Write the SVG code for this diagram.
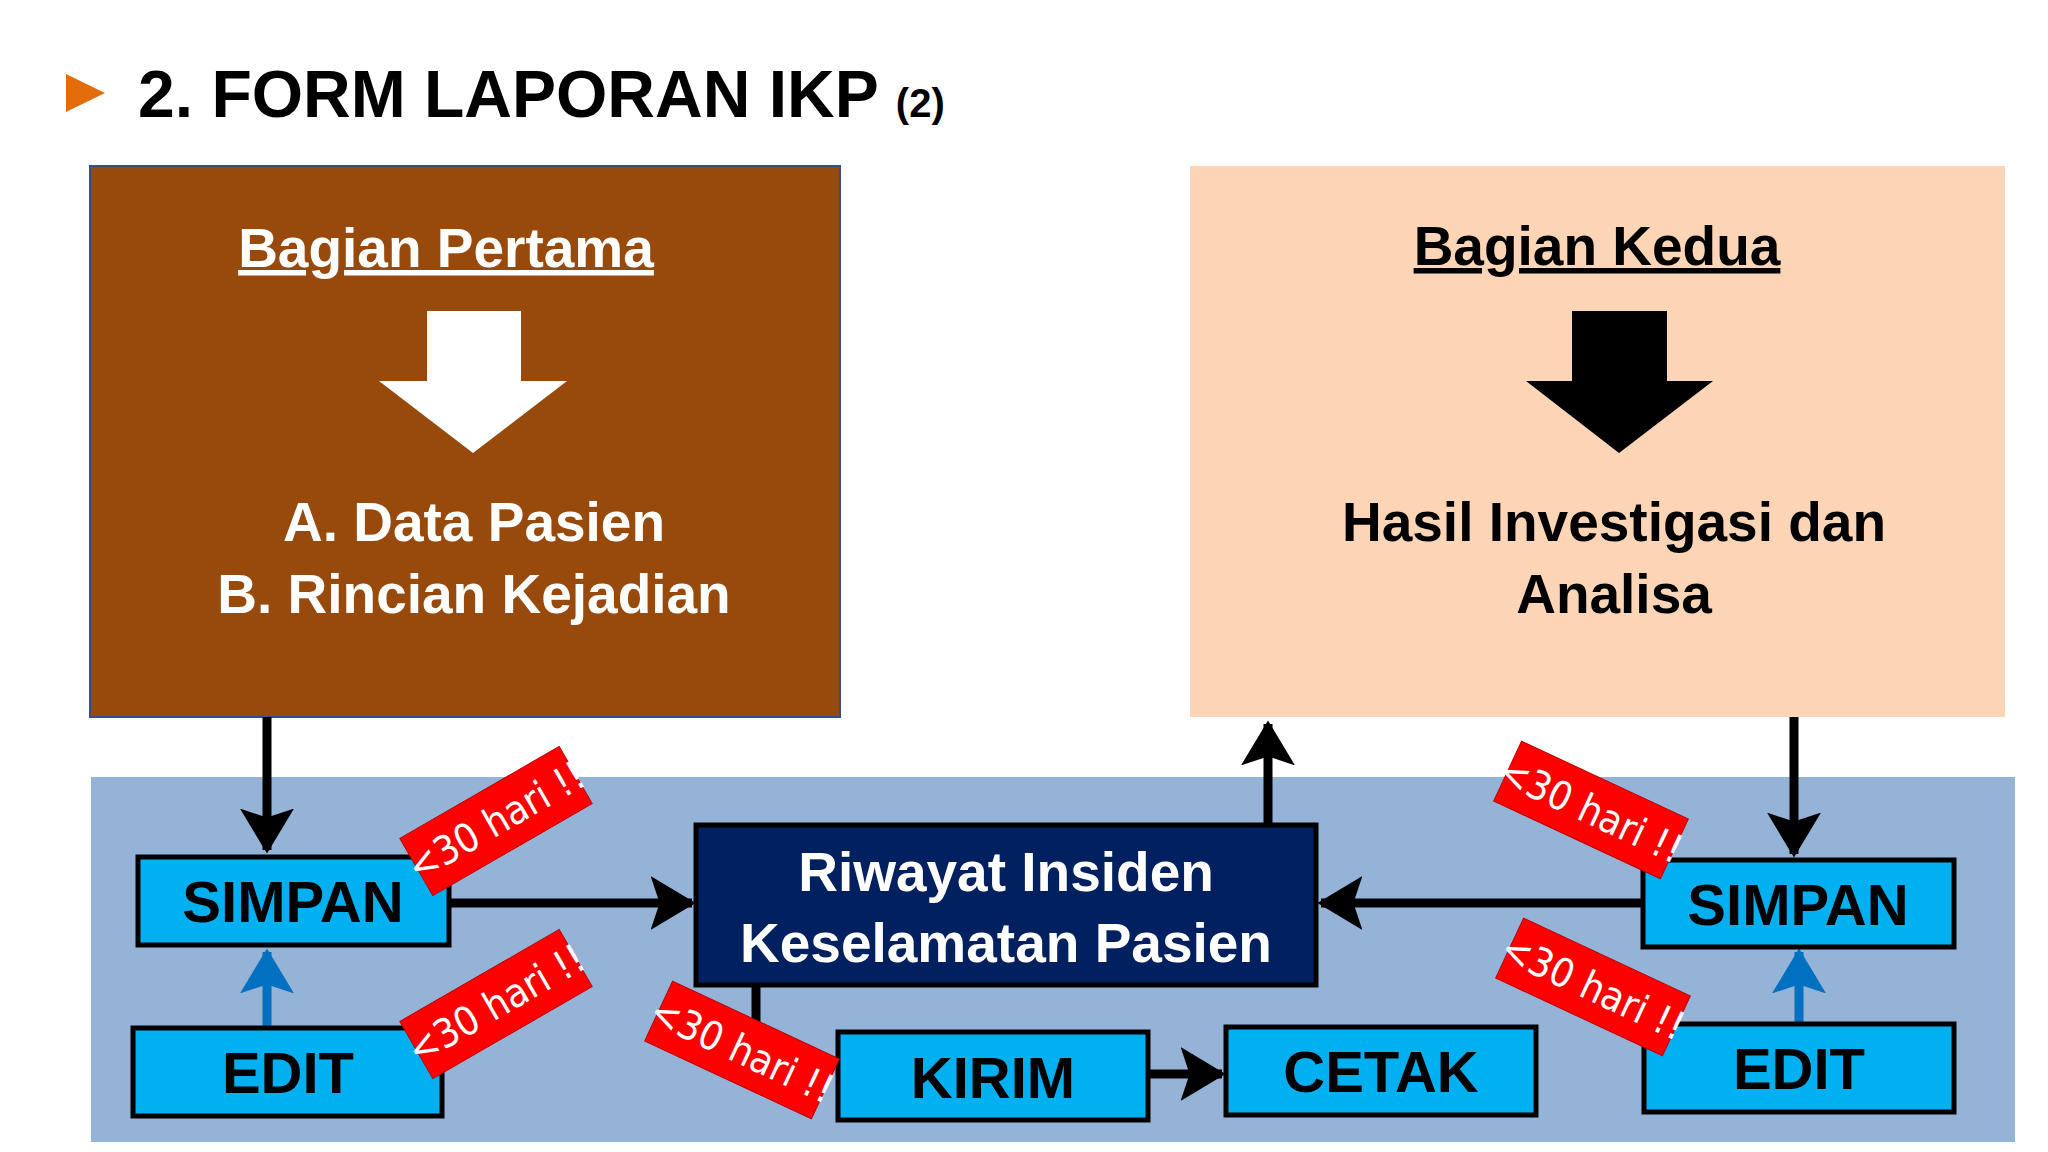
<svg xmlns="http://www.w3.org/2000/svg" width="2048" height="1152" viewBox="0 0 2048 1152">
<style>
.t{font-family:"Liberation Sans",Arial,sans-serif;font-weight:bold}
.node{fill:#00B0F0;stroke:#000;stroke-width:5}
.nt{font-family:"Liberation Sans",Arial,sans-serif;font-weight:bold;font-size:58px;fill:#000;text-anchor:middle}
.c{stroke:#000;stroke-width:9;fill:none}
.cb{stroke:#0070C0;stroke-width:9;fill:none}
.tag rect{fill:#FF0000;stroke:#C00000;stroke-width:1}
.tag text{font-family:"DejaVu Sans Condensed","DejaVu Sans",sans-serif;font-stretch:condensed;font-size:40px;fill:#fff;text-anchor:middle}
</style>
<defs>
<marker id="ah" markerWidth="6" markerHeight="6" refX="4.6" refY="3" orient="auto" markerUnits="strokeWidth">
<path d="M0,0 L5,3 L0,6 L1,3 Z" fill="#000"/>
</marker>
<marker id="ahb" markerWidth="6" markerHeight="6" refX="4.6" refY="3" orient="auto" markerUnits="strokeWidth">
<path d="M0,0 L5,3 L0,6 L1,3 Z" fill="#0070C0"/>
</marker>
</defs>
<rect width="2048" height="1152" fill="#fff"/>
<polygon points="66,74 105,93 66,112" fill="#E36C0A"/>
<text class="t" x="138" y="117" font-size="66" fill="#000">2. FORM LAPORAN IKP <tspan font-size="40">(2)</tspan></text>

<g id="bagian-pertama">
<rect x="90" y="166" width="750" height="551" fill="#974A0B" stroke="#2F528F" stroke-width="2"/>
<text class="t" x="446" y="267" font-size="55" fill="#fff" text-anchor="middle" text-decoration="underline">Bagian Pertama</text>
<polygon points="427,311 521,311 521,381 567,381 473,453 379,381 427,381" fill="#fff"/>
<text class="t" x="474" y="541" font-size="55" fill="#fff" text-anchor="middle">A.  Data Pasien</text>
<text class="t" x="474" y="613" font-size="55" fill="#fff" text-anchor="middle">B.  Rincian Kejadian</text>
</g>
<g id="bagian-kedua">
<rect x="1190" y="166" width="815" height="551" fill="#FBD5B5"/>
<text class="t" x="1597" y="265" font-size="55" fill="#000" text-anchor="middle" text-decoration="underline">Bagian Kedua</text>
<polygon points="1572,311 1667,311 1667,381 1713,381 1619,453 1526,381 1572,381" fill="#000"/>
<text class="t" x="1614" y="541" font-size="55" fill="#000" text-anchor="middle">Hasil Investigasi dan</text>
<text class="t" x="1614" y="613" font-size="55" fill="#000" text-anchor="middle">Analisa</text>
</g>
<rect x="91" y="777" width="1924" height="365" fill="#95B3D7"/>

<g id="connectors">
<line class="c" x1="267" y1="717" x2="267" y2="850" marker-end="url(#ah)"/>
<line class="cb" x1="267" y1="1028" x2="267" y2="952" marker-end="url(#ahb)"/>
<line class="c" x1="449" y1="903" x2="692" y2="903" marker-end="url(#ah)"/>
<line class="c" x1="1268" y1="825" x2="1268" y2="724" marker-end="url(#ah)"/>
<line class="c" x1="1643" y1="903" x2="1321" y2="903" marker-end="url(#ah)"/>
<line class="c" x1="1794" y1="717" x2="1794" y2="854" marker-end="url(#ah)"/>
<line class="cb" x1="1799" y1="1024" x2="1799" y2="952" marker-end="url(#ahb)"/>
<line class="c" x1="756" y1="985" x2="756" y2="1040"/>
<line class="c" x1="1148" y1="1074" x2="1222" y2="1074" marker-end="url(#ah)"/>
</g>

<g id="simpan-kiri"><rect class="node" x="138" y="857" width="311" height="88"/><text class="nt" x="293" y="922">SIMPAN</text></g>
<g id="edit-kiri"><rect class="node" x="133" y="1028" width="309" height="88"/><text class="nt" x="288" y="1093">EDIT</text></g>
<g id="riwayat"><rect x="696" y="825" width="620" height="160" fill="#002060" stroke="#000" stroke-width="5"/>
<text class="t" x="1006" y="891" font-size="55" fill="#fff" text-anchor="middle">Riwayat Insiden</text>
<text class="t" x="1006" y="962" font-size="55" fill="#fff" text-anchor="middle">Keselamatan Pasien</text></g>
<g id="kirim"><rect class="node" x="838" y="1032" width="310" height="88"/><text class="nt" x="993" y="1098">KIRIM</text></g>
<g id="cetak"><rect class="node" x="1226" y="1027" width="310" height="88"/><text class="nt" x="1381" y="1092">CETAK</text></g>
<g id="simpan-kanan"><rect class="node" x="1643" y="860" width="311" height="87"/><text class="nt" x="1798" y="925">SIMPAN</text></g>
<g id="edit-kanan"><rect class="node" x="1644" y="1024" width="310" height="88"/><text class="nt" x="1799" y="1089">EDIT</text></g>

<g id="tag1" class="tag" transform="translate(496,821) rotate(-30)"><rect x="-92" y="-33" width="184" height="66"/><text y="14">&lt;30 hari !!</text></g>
<g id="tag2" class="tag" transform="translate(496,1004) rotate(-30)"><rect x="-92" y="-33" width="184" height="66"/><text y="14">&lt;30 hari !!</text></g>
<g id="tag3" class="tag" transform="translate(742,1050) rotate(25)"><rect x="-92" y="-33" width="184" height="66"/><text y="14">&lt;30 hari !!</text></g>
<g id="tag4" class="tag" transform="translate(1591,810) rotate(25)"><rect x="-92" y="-33" width="184" height="66"/><text y="14">&lt;30 hari !!</text></g>
<g id="tag5" class="tag" transform="translate(1593,987) rotate(25)"><rect x="-92" y="-33" width="184" height="66"/><text y="14">&lt;30 hari !!</text></g>
</svg>
